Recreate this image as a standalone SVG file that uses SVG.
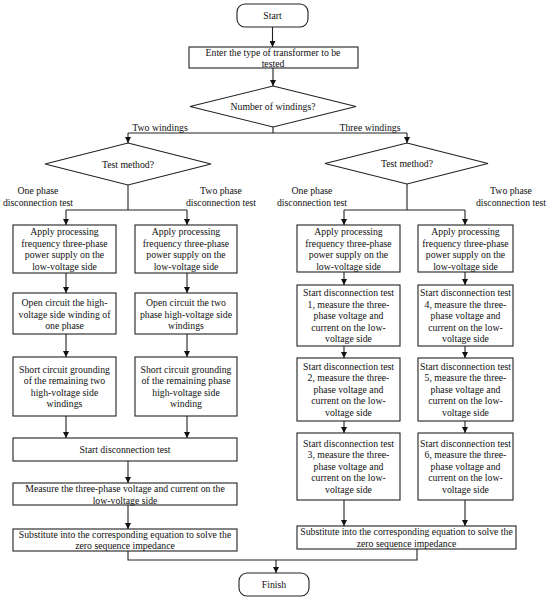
<svg xmlns="http://www.w3.org/2000/svg" width="550" height="599" viewBox="0 0 550 599" font-family="Liberation Serif, Times New Roman, serif">
<defs>
<marker id="ah" markerWidth="6" markerHeight="6" refX="6" refY="3" orient="auto" markerUnits="userSpaceOnUse">
<path d="M0,0 L6,3 L0,6 Z" fill="#111"/>
</marker>
<style>
.n{fill:#fff;stroke:#222;stroke-width:1.1}
.c{fill:none;stroke:#222;stroke-width:1.1}
.a{marker-end:url(#ah)}
text{font-family:'Liberation Serif','Times New Roman',serif;font-size:9.75px;fill:#111;text-anchor:middle}
</style>
</defs>
<rect width="550" height="599" fill="#fff"/>
<g id="connectors">
<path class="c a" d="M272.5,27 V47"/>
<path class="c a" d="M273,68 V86"/>
<path class="c" d="M273,127 V133 M128,133 H407"/>
<path class="c a" d="M128,133 V143"/>
<path class="c a" d="M407,133 V143"/>
<path class="c" d="M128,185 V210 M66,210 H187"/>
<path class="c a" d="M66,210 V225"/>
<path class="c a" d="M187,210 V225"/>
<path class="c" d="M407,184 V210 M344,210 H465"/>
<path class="c a" d="M344,210 V225"/>
<path class="c a" d="M465,210 V225"/>
<path class="c a" d="M66,273 V293"/>
<path class="c a" d="M187,273 V293"/>
<path class="c a" d="M66,334 V357"/>
<path class="c a" d="M187,334 V357"/>
<path class="c a" d="M66,416 V438"/>
<path class="c a" d="M187,416 V438"/>
<path class="c a" d="M128,461 V483"/>
<path class="c a" d="M128,505 V529"/>
<path class="c a" d="M344,272 V285"/>
<path class="c a" d="M465,272 V285"/>
<path class="c a" d="M344,346 V358"/>
<path class="c a" d="M465,346 V358"/>
<path class="c a" d="M344,421 V433"/>
<path class="c a" d="M465,421 V433"/>
<path class="c a" d="M344,500 V526"/>
<path class="c a" d="M465,500 V526"/>
<path class="c" d="M128,551 V560 H417 V549"/>
<path class="c a" d="M276,560 V573"/>
<text x="160" y="130.5">Two windings</text>
<text x="370" y="130.5">Three windings</text>
<text x="38" y="193.5">One phase</text>
<text x="38" y="205.5">disconnection test</text>
<text x="221" y="193.5">Two phase</text>
<text x="221" y="205.5">disconnection test</text>
<text x="312" y="193.5">One phase</text>
<text x="312" y="205.5">disconnection test</text>
<text x="511" y="193.5">Two phase</text>
<text x="511" y="205.5">disconnection test</text>
</g>
<g id="start"><rect class="n" x="237" y="4" width="71" height="23" rx="8"/><text x="272.5" y="19">Start</text></g>
<g id="enter"><rect class="n" x="189" y="47" width="169" height="21"/><text x="273" y="56">Enter the type of transformer to be</text><text x="273" y="66.5">tested</text></g>
<g id="windings"><polygon class="n" points="273,86 356,106.5 273,127 190,106.5"/><text x="273" y="110">Number of windings?</text></g>
<g id="method2"><polygon class="n" points="128,143 211,164 128,185 45,164"/><text x="128" y="167.5">Test method?</text></g>
<g id="method3"><polygon class="n" points="407,143 488,163.5 407,184 325,163.5"/><text x="407" y="167">Test method?</text></g>
<g id="l1a"><rect class="n" x="13" y="225" width="103" height="48"/><text x="64.5" y="235">Apply processing</text><text x="64.5" y="246.5">frequency three-phase</text><text x="64.5" y="258">power supply on the</text><text x="64.5" y="269.5">low-voltage side</text></g>
<g id="l1b"><rect class="n" x="135" y="225" width="102" height="48"/><text x="186" y="235">Apply processing</text><text x="186" y="246.5">frequency three-phase</text><text x="186" y="258">power supply on the</text><text x="186" y="269.5">low-voltage side</text></g>
<g id="l2a"><rect class="n" x="13" y="293" width="103" height="41"/><text x="64.5" y="306">Open circuit the high-</text><text x="64.5" y="317.5">voltage side winding of</text><text x="64.5" y="329">one phase</text></g>
<g id="l2b"><rect class="n" x="135" y="293" width="102" height="41"/><text x="186" y="306">Open circuit the two</text><text x="186" y="317.5">phase high-voltage side</text><text x="186" y="329">windings</text></g>
<g id="l3a"><rect class="n" x="13" y="357" width="103" height="59"/><text x="64.5" y="372.5">Short circuit grounding</text><text x="64.5" y="384">of the remaining two</text><text x="64.5" y="395.5">high-voltage side</text><text x="64.5" y="407">windings</text></g>
<g id="l3b"><rect class="n" x="135" y="357" width="102" height="59"/><text x="186" y="372.5">Short circuit grounding</text><text x="186" y="384">of the remaining phase</text><text x="186" y="395.5">high-voltage side</text><text x="186" y="407">winding</text></g>
<g id="l4"><rect class="n" x="13" y="438" width="224" height="23"/><text x="125" y="453">Start disconnection test</text></g>
<g id="l5"><rect class="n" x="13" y="483" width="224" height="22"/><text x="125" y="492">Measure the three-phase voltage and current on the</text><text x="125" y="503.5">low-voltage side</text></g>
<g id="l6"><rect class="n" x="13" y="529" width="224" height="22"/><text x="125" y="537.5">Substitute into the corresponding equation to solve the</text><text x="125" y="549">zero sequence impedance</text></g>
<g id="r1a"><rect class="n" x="297" y="225" width="103" height="47"/><text x="348.5" y="235">Apply processing</text><text x="348.5" y="246.5">frequency three-phase</text><text x="348.5" y="258">power supply on the</text><text x="348.5" y="269.5">low-voltage side</text></g>
<g id="r1b"><rect class="n" x="418" y="225" width="95" height="47"/><text x="465.5" y="235">Apply processing</text><text x="465.5" y="246.5">frequency three-phase</text><text x="465.5" y="258">power supply on the</text><text x="465.5" y="269.5">low-voltage side</text></g>
<g id="r2a"><rect class="n" x="297" y="285" width="103" height="61"/><text x="348.5" y="296">Start disconnection test</text><text x="348.5" y="307.5">1, measure the three-</text><text x="348.5" y="319">phase voltage and</text><text x="348.5" y="330.5">current on the low-</text><text x="348.5" y="342">voltage side</text></g>
<g id="r2b"><rect class="n" x="418" y="285" width="95" height="61"/><text x="465.5" y="296">Start disconnection test</text><text x="465.5" y="307.5">4, measure the three-</text><text x="465.5" y="319">phase voltage and</text><text x="465.5" y="330.5">current on the low-</text><text x="465.5" y="342">voltage side</text></g>
<g id="r3a"><rect class="n" x="297" y="358" width="103" height="63"/><text x="348.5" y="369.5">Start disconnection test</text><text x="348.5" y="381">2, measure the three-</text><text x="348.5" y="392.5">phase voltage and</text><text x="348.5" y="404">current on the low-</text><text x="348.5" y="415.5">voltage side</text></g>
<g id="r3b"><rect class="n" x="418" y="358" width="95" height="63"/><text x="465.5" y="369.5">Start disconnection test</text><text x="465.5" y="381">5, measure the three-</text><text x="465.5" y="392.5">phase voltage and</text><text x="465.5" y="404">current on the low-</text><text x="465.5" y="415.5">voltage side</text></g>
<g id="r4a"><rect class="n" x="297" y="433" width="103" height="67"/><text x="348.5" y="446.5">Start disconnection test</text><text x="348.5" y="458">3, measure the three-</text><text x="348.5" y="469.5">phase voltage and</text><text x="348.5" y="481">current on the low-</text><text x="348.5" y="492.5">voltage side</text></g>
<g id="r4b"><rect class="n" x="418" y="433" width="95" height="67"/><text x="465.5" y="446.5">Start disconnection test</text><text x="465.5" y="458">6, measure the three-</text><text x="465.5" y="469.5">phase voltage and</text><text x="465.5" y="481">current on the low-</text><text x="465.5" y="492.5">voltage side</text></g>
<g id="r5"><rect class="n" x="297" y="526" width="219" height="23"/><text x="406.5" y="535">Substitute into the corresponding equation to solve the</text><text x="406.5" y="546.5">zero sequence impedance</text></g>
<g id="finish"><rect class="n" x="239" y="573" width="70" height="23" rx="8"/><text x="274" y="588">Finish</text></g>
</svg>
